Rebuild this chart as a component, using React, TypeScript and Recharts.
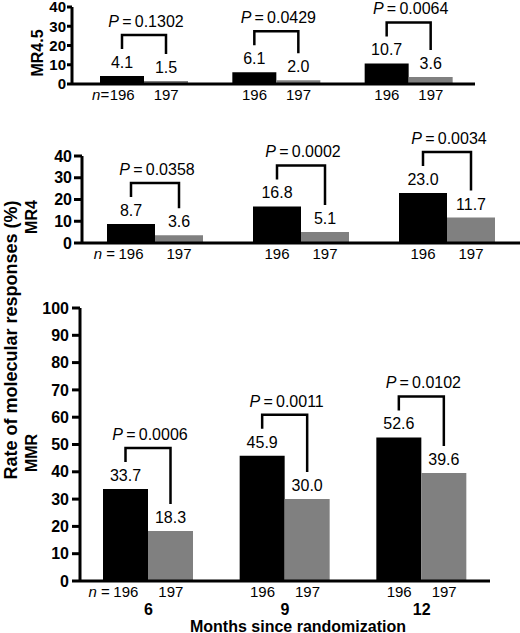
import React from 'react'
import { BarChart, Bar, XAxis, YAxis, LabelList } from 'recharts'

// months since randomization and patients per arm
const months = ['6', '9', '12']
const nBlack = [196, 196, 196]
const nGray = [197, 197, 197]

// MR4.5 rates (%)
const mr45Black = [4.1, 6.1, 10.7]
const mr45Gray = [1.5, 2.0, 3.6]
const mr45P = ['0.1302', '0.0429', '0.0064']

// MR4 rates (%)
const mr4Black = [8.7, 16.8, 23.0]
const mr4Gray = [3.6, 5.1, 11.7]
const mr4P = ['0.0358', '0.0002', '0.0034']

// MMR rates (%)
const mmrBlack = [33.7, 45.9, 52.6]
const mmrGray = [18.3, 30.0, 39.6]
const mmrP = ['0.0006', '0.0011', '0.0102']

const smallTicks = [0, 10, 20, 30, 40]
const mmrTicks = [0, 10, 20, 30, 40, 50, 60, 70, 80, 90, 100]

const FONT = '"Liberation Sans", Arial, Helvetica, sans-serif'
const GRAY = '#808080'

type Row = { month: string; a: number; b: number; p: string; nA: number; nB: number }

const buildRows = (a: number[], b: number[], p: string[]): Row[] =>
  months.map((m, i) => ({ month: m, a: a[i], b: b[i], p: p[i], nA: nBlack[i], nB: nGray[i] }))

type PanelProps = {
  rows: Row[]
  ticks: number[]
  top: number
  height: number
  margin: { top: number; right: number; bottom: number; left: number }
  yWidth: number
  xHeight: number
  barSize: number
  padLeft: number
  tickSize: number
  tickMargin: number
  tickFont: number
  compactN?: boolean
  showMonth?: boolean
}

function Panel(props: PanelProps) {
  const { rows, ticks, barSize } = props
  const max = ticks[ticks.length - 1]

  // value label + P-value bracket, drawn from the black bar's geometry
  const blackLabel = (lp: any) => {
    const x = Number(lp.x), y = Number(lp.y), w = Number(lp.width), h = Number(lp.height)
    const row = rows[lp.index]
    const bottom = y + h
    const ppu = h / row.a
    const topB = bottom - row.b * ppu
    const cxA = x + w / 2
    const cxB = x + w * 1.5
    const lb = y - 27
    const rb = topB - 27
    const hy = Math.min(lb, rb) - 14
    return (
      <g>
        <text x={cxA} y={y - 8} textAnchor="middle" fontSize={16} fill="#000">{row.a.toFixed(1)}</text>
        <path d={`M${cxA},${lb}V${hy}H${cxB}V${rb}`} fill="none" stroke="#000" strokeWidth={2.5} />
        <text x={(cxA + cxB) / 2 + 2} y={hy - 8} textAnchor="middle" fontSize={16} fill="#000">
          <tspan fontStyle="italic">P</tspan>
          <tspan>{'\u2009=\u2009' + row.p}</tspan>
        </text>
      </g>
    )
  }

  const grayLabel = (lp: any) => {
    const x = Number(lp.x), y = Number(lp.y), w = Number(lp.width)
    const row = rows[lp.index]
    return (
      <text x={x + w / 2} y={y - 8} textAnchor="middle" fontSize={16} fill="#000">{row.b.toFixed(1)}</text>
    )
  }

  const nTick = (tp: any) => {
    const { x, y, payload } = tp
    const i = rows.findIndex((r) => r.month === payload.value)
    const row = rows[i]
    const ca = x - barSize / 2
    const cb = x + barSize / 2
    return (
      <g>
        <text x={ca} y={y + 16} textAnchor="middle" fontSize={15} fill="#000">{row.nA}</text>
        {i === 0 && (
          <text x={props.compactN ? ca - 13 : ca - 16} y={y + 16} textAnchor="end" fontSize={15} fill="#000">
            <tspan fontStyle="italic">n</tspan>
            <tspan>{props.compactN ? '=' : ' ='}</tspan>
          </text>
        )}
        <text x={cb} y={y + 16} textAnchor="middle" fontSize={15} fill="#000">{row.nB}</text>
        {props.showMonth && (
          <text x={x} y={y + 34} textAnchor="middle" fontSize={16} fontWeight="bold" fill="#000">{payload.value}</text>
        )}
      </g>
    )
  }

  return (
    <div style={{ position: 'absolute', left: 0, top: props.top }}>
      <BarChart
        width={520}
        height={props.height}
        data={rows}
        margin={props.margin}
        barGap={0}
        style={{ fontFamily: FONT }}
      >
        <XAxis
          dataKey="month"
          height={props.xHeight}
          padding={{ left: props.padLeft, right: 0 }}
          axisLine={{ stroke: '#000', strokeWidth: 3 }}
          tickLine={false}
          tickSize={0}
          tickMargin={0}
          tick={nTick}
          interval={0}
        />
        <YAxis
          width={props.yWidth}
          domain={[0, max]}
          ticks={ticks}
          interval={0}
          axisLine={{ stroke: '#000', strokeWidth: 3 }}
          tickLine={{ stroke: '#000', strokeWidth: 3 }}
          tickSize={props.tickSize}
          tickMargin={props.tickMargin}
          tick={{ fontSize: props.tickFont, fontWeight: 'bold', fill: '#000' }}
        />
        <Bar dataKey="a" fill="#000" barSize={barSize} isAnimationActive={false}>
          <LabelList dataKey="a" content={blackLabel} />
        </Bar>
        <Bar dataKey="b" fill={GRAY} barSize={barSize} isAnimationActive={false}>
          <LabelList dataKey="b" content={grayLabel} />
        </Bar>
      </BarChart>
    </div>
  )
}

export default function App() {
  const mr45Rows = buildRows(mr45Black, mr45Gray, mr45P)
  const mr4Rows = buildRows(mr4Black, mr4Gray, mr4P)
  const mmrRows = buildRows(mmrBlack, mmrGray, mmrP)

  return (
    <div style={{ position: 'absolute', left: 0, top: 0, width: 520, height: 633, background: '#fff', fontFamily: FONT, overflow: 'hidden' }}>
      <style>{'svg.recharts-surface{overflow:visible}'}</style>
      <Panel
        rows={mr45Rows}
        ticks={smallTicks}
        top={0}
        height={105}
        margin={{ top: 7, right: 45, bottom: 0, left: 0 }}
        yWidth={72}
        xHeight={21}
        barSize={44}
        padLeft={6}
        tickSize={5}
        tickMargin={1}
        tickFont={15}
        compactN
      />
      <Panel
        rows={mr4Rows}
        ticks={smallTicks}
        top={100}
        height={168}
        margin={{ top: 56, right: 0, bottom: 0, left: 0 }}
        yWidth={82}
        xHeight={25}
        barSize={48}
        padLeft={0}
        tickSize={8}
        tickMargin={2}
        tickFont={16}
      />
      <Panel
        rows={mmrRows}
        ticks={mmrTicks}
        top={270}
        height={356}
        margin={{ top: 38, right: 30, bottom: 0, left: 0 }}
        yWidth={80}
        xHeight={45}
        barSize={45}
        padLeft={0}
        tickSize={8}
        tickMargin={3}
        tickFont={16}
        showMonth
      />
      <svg width={520} height={633} style={{ position: 'absolute', left: 0, top: 0, pointerEvents: 'none' }}>
        <g fontFamily={FONT} fontWeight="bold" fill="#000">
          <text x={43} y={53} fontSize={16} textAnchor="middle" transform="rotate(-90 43 53)">MR4.5</text>
          <text x={37} y={217} fontSize={16} textAnchor="middle" transform="rotate(-90 37 217)">MR4</text>
          <text x={37} y={453} fontSize={16} textAnchor="middle" transform="rotate(-90 37 453)">MMR</text>
          <text x={17} y={340} fontSize={18} textAnchor="middle" transform="rotate(-90 17 340)">Rate of molecular responses (%)</text>
          <text x={298} y={632} fontSize={16} textAnchor="middle">Months since randomization</text>
        </g>
      </svg>
    </div>
  )
}
